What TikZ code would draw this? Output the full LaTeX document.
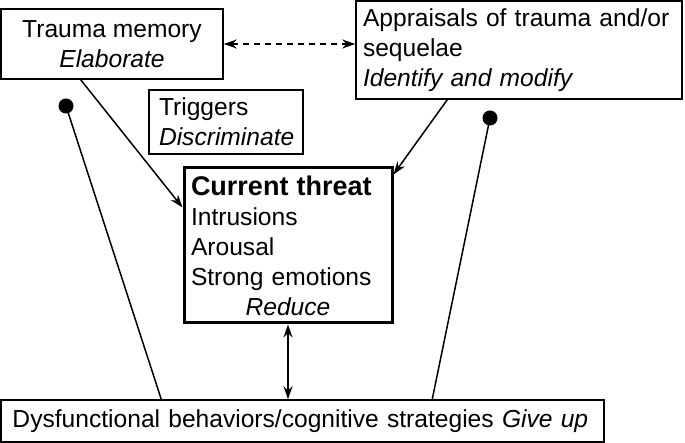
\documentclass[tikz,border=0pt]{standalone}
\usepackage{fontspec}
\setmainfont{Liberation Sans}
\usetikzlibrary{arrows.meta,calc}
\begin{document}
\begin{tikzpicture}[x=1pt,y=-1pt,
  box/.style={draw,line width=1.5pt,inner sep=0pt,font=\fontsize{24.6}{30}\selectfont},
  thick box/.style={box,line width=3pt},
  conn/.style={line width=1.5pt},
  tip/.style={-{Stealth[length=13pt,width=9pt]}},
  dtip/.style={{Stealth[length=13pt,width=9pt]}-{Stealth[length=13pt,width=9pt]}},
  ball/.style={circle,fill,inner sep=0pt,minimum size=15pt}]
\useasboundingbox (0,0) rectangle (685,443);
\node[box,minimum width=222pt,minimum height=70pt,align=center] (trauma) at (112,44)
  {Trauma memory\\\textit{Elaborate}};
\node[box,minimum width=326pt,minimum height=98pt,text width=312pt,align=left] (appr) at (519,50)
  {Appraisals of trauma and/or\\sequelae\\\textit{Identify and modify}};
\node[box,minimum width=154pt,minimum height=64pt,text width=134pt,align=left] (trig) at (226,122)
  {Triggers\\\textit{Discriminate}};
\node[thick box,minimum width=208pt,minimum height=155pt,text width=194pt,align=left] (threat) at (288,245.5)
  {{\fontsize{27}{30}\selectfont\textbf{Current threat}}\\Intrusions\\Arousal\\Strong emotions\\\hspace*{0pt}\hfill\textit{Reduce}\hfill\hspace*{0pt}};
\node[box,minimum width=603pt,minimum height=42pt,text width=580pt,align=left] (dys) at (302.5,421)
  {Dysfunctional behaviors/cognitive strategies \textit{Give up}};
\node[ball] (lb) at (66,106) {};
\node[ball] (rb) at (490,118) {};
\draw[conn,dtip,dashed,dash pattern=on 6pt off 5pt] (trauma.east) -- (trauma.east -| appr.west);
\draw[conn,tip] ($(trauma.south west)!0.36!(trauma.south east)$) -- ($(threat.north west)+(0,41)$);
\draw[conn,tip] ($(appr.south west)+(92,0)$) -- ($(threat.north east)+(0,8)$);
\draw[conn] (lb.center) -- ($(dys.north west)+(161,0)$);
\draw[conn] (rb.center) -- ($(dys.north west)+(432,0)$);
\draw[conn,dtip] (threat.south) -- (threat.south |- dys.north);
\end{tikzpicture}
\end{document}
